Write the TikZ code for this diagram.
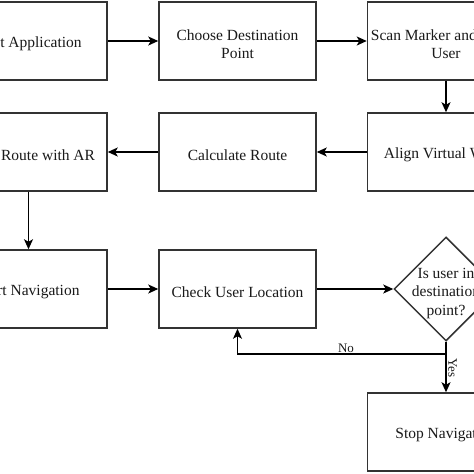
\documentclass[tikz,border=0pt]{standalone}
\usepackage{fontspec}
\setmainfont{Liberation Serif}
\usetikzlibrary{shapes.geometric,arrows.meta,positioning}
\definecolor{edge}{HTML}{333333}
\definecolor{ink}{HTML}{1A1A1A}
\tikzset{
  every node/.style={font=\fontsize{15.5}{18.5}\selectfont, text=ink},
  procbox/.style={draw=edge, line width=1.5pt, rectangle, minimum width=157pt, minimum height=78pt, inner sep=0pt},
  boxtext/.style={align=center, inner sep=0pt, yshift=-3pt},
  decision/.style={draw=edge, line width=1.5pt, diamond, aspect=1, minimum width=104pt, minimum height=104pt, inner sep=0pt},
  flow/.style={draw=black, line width=1.3pt, -{Stealth[length=10pt,width=9pt,inset=2.5pt]}},
  lbl/.style={font=\fontsize{13}{15}\selectfont, inner sep=1pt}
}
\begin{document}
\begin{tikzpicture}[x=1pt,y=-1pt]
\useasboundingbox (0,0) rectangle (474,474);
\clip (0,0) rectangle (474,474);
\fill[white] (0,0) rectangle (474,474);
% row 1
\node[procbox] (start) at (28.5,41) {};
\node[boxtext] (startT) at (start.center) {Start Application};
\node[procbox] (choose) at (237.5,41) {};
\node[boxtext] (chooseT) at (choose.center) {Choose Destination\\Point};
\node[procbox] (scan) at (446,41) {};
\node[boxtext] (scanT) at (scan.center) {Scan Marker and Detect\\User};
% row 2
\node[procbox] (show) at (28.5,152) {};
\node[boxtext] (showT) at (show.center) {Show Route with AR};
\node[procbox] (calc) at (237.5,152) {};
\node[boxtext] (calcT) at (calc.center) {Calculate Route};
\node[procbox] (align) at (446,152) {};
\node[boxtext] (alignT) at (align.center) {Align Virtual World};
% row 3
\node[procbox] (nav) at (28.5,289) {};
\node[boxtext] (navT) at (nav.center) {Start Navigation};
\node[procbox] (check) at (237.5,289) {};
\node[boxtext] (checkT) at (check.center) {Check User Location};
\node[decision] (dec) at (446,289) {};
\node[boxtext, yshift=-1.5pt] (dectext) at (dec.center) {Is user in\\destination\\point?};
% row 4
\node[procbox] (stop) at (446,432) {};
\node[boxtext] (stopT) at (stop.center) {Stop Navigation};
% connectors
\draw[flow] (start) -- (choose);
\draw[flow] (choose) -- (scan);
\draw[flow] (scan) -- (align);
\draw[flow] (align) -- (calc);
\draw[flow] (calc) -- (show);
\draw[flow] (show) -- (nav);
\draw[flow] (nav) -- (check);
\draw[flow] (check) -- (dec.west);
\coordinate (split) at (446,354);
\draw[flow] (dec.south) -- (stop.north);
\draw[flow] (split) -| (check.south);
\node[lbl, anchor=south] (nolbl) at (346,354) {No};
\node[lbl, rotate=-90] (yeslbl) at (452.5,368) {Yes};
\end{tikzpicture}
\end{document}
